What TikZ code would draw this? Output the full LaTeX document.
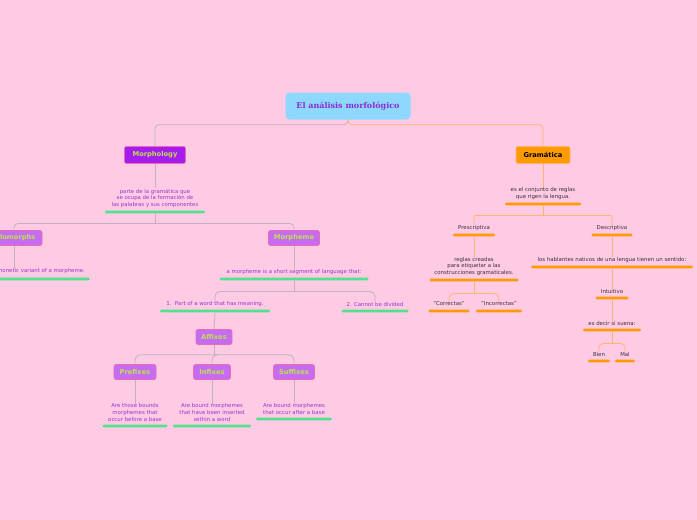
\documentclass[tikz,border=0pt]{standalone}
\usepackage{fontspec}
\setmainfont{DejaVu Sans}
\newfontfamily\titlefont{DejaVu Serif}
\definecolor{bg}{HTML}{FFCBE4}
\definecolor{titleblue}{HTML}{8ED8FD}
\definecolor{titlepurple}{HTML}{8A2BD8}
\definecolor{mainpurple}{HTML}{A41CF0}
\definecolor{subpurple}{HTML}{C56CF2}
\definecolor{boxedge}{HTML}{EC6AAE}
\definecolor{lime}{HTML}{BDE24C}
\definecolor{desctext}{HTML}{9A33CC}
\definecolor{darktext}{HTML}{3A3040}
\definecolor{greenline}{HTML}{52E28E}
\definecolor{orangeline}{HTML}{FF9A00}
\definecolor{grayconn}{HTML}{BFB3BB}
\definecolor{orangeconn}{HTML}{FFB468}
\definecolor{gramorange}{HTML}{FF9B00}
\begin{document}
\begin{tikzpicture}[x=1pt,y=-1pt,
  titlebox/.style={fill=titleblue, rounded corners=4, minimum width=125, minimum height=27, inner sep=0,
    font=\titlefont\bfseries\fontsize{8}{9}\selectfont, text=titlepurple},
  mainbox/.style={fill=mainpurple, draw=boxedge, line width=0.6, rounded corners=2, minimum height=17, inner sep=0,
    text=lime, font=\bfseries\fontsize{6.7}{7}\selectfont},
  subbox/.style={fill=subpurple, draw=boxedge, line width=0.6, rounded corners=2, minimum height=15, inner sep=0,
    text=lime, font=\bfseries\fontsize{6.7}{7}\selectfont},
  grambox/.style={fill=gramorange, draw=orangeconn, line width=0.6, rounded corners=2, minimum height=17, minimum width=54, inner sep=0,
    text=black, font=\bfseries\fontsize{6.7}{7}\selectfont},
  desc/.style={align=center, inner sep=0, text=desctext, font=\fontsize{5.4}{6.6}\selectfont},
  rdesc/.style={align=center, inner sep=0, text=darktext, font=\fontsize{5.4}{6.6}\selectfont},
  gline/.style={fill=greenline, rounded corners=1.2, minimum height=2.6, inner sep=0},
  oline/.style={fill=orangeline, rounded corners=1.2, minimum height=2.6, inner sep=0},
  gc/.style={draw=grayconn, line width=0.8},
  oc/.style={draw=orangeconn, line width=0.8},
]
\fill[bg] (0,0) rectangle (697,520);
\clip (0,0) rectangle (697,520);

% ---- title
\node[titlebox] (title) at (348,106) {El análisis morfológico};

% ---- left branch
\node[mainbox, minimum width=61] (morph) at (155,155) {Morphology};
\draw[gc, rounded corners=4] (title.south) -- ++(0,5) -| (morph.north);
\node[desc] (d1) at (155,198) {parte de la gramática que\\se ocupa de la formación de\\las palabras y sus componentes};
\node[gline, minimum width=100] (u1) at (155,212) {};
\draw[gc] (morph.south) -- (d1.north);
\draw[gc] (u1.south) -- ++(0,10) coordinate (b1);

\node[subbox, minimum width=56] (allo) at (14,238) {Allomorphs};
\node[subbox, minimum width=51] (morphm) at (294,238) {Morpheme};
\draw[gc, rounded corners=4] (b1) -| (allo.north);
\draw[gc, rounded corners=4] (b1) -| (morphm.north);

\node[desc, anchor=east] (d2) at (85,271) {An allomorph is a phonetic variant of a morpheme.};
\node[gline, minimum width=150, anchor=east] (u2) at (90,279) {};
\draw[gc] (allo.south) -- (allo.south |- d2.north);

\node[desc] (d3) at (294,272) {a morpheme is a short segment of language that:};
\node[gline, minimum width=149] (u3) at (294,279) {};
\draw[gc] (morphm.south) -- (d3.north);
\draw[gc] (u3.south) -- ++(0,11) coordinate (b3);

\node[desc] (p1) at (215,304) {1.\ \ Part of a word that has meaning.};
\node[gline, minimum width=110] (u4) at (215,311) {};
\node[desc] (p2) at (375,304) {2. Cannot be divided};
\node[gline, minimum width=67] (u5) at (375,311) {};
\draw[gc, rounded corners=5] (b3) -| (p1.north);
\draw[gc, rounded corners=5] (b3) -| (p2.north);

\node[subbox, minimum width=36] (aff) at (214,337) {Affixes};
\draw[gc] (u4.south) -- (aff.north);
\draw[gc] (aff.south) -- ++(0,10) coordinate (b4);

\node[subbox, minimum width=42] (pre) at (135,372) {Prefixes};
\node[subbox, minimum width=37] (inf) at (212,372) {Infixes};
\node[subbox, minimum width=41] (suf) at (294,372) {Suffixes};
\draw[gc, rounded corners=6] (b4) -| (pre.north);
\draw[gc, rounded corners=6] (b4) -| (inf.north);
\draw[gc, rounded corners=6] (b4) -| (suf.north);

\node[desc] (dpre) at (135,412.5) {Are those bounds\\morphemes that\\occur before a base};
\node[gline, minimum width=65] (upre) at (135,426) {};
\node[desc] (dinf) at (212,412.5) {Are bound morphemes\\that have been inserted\\within a word};
\node[gline, minimum width=78] (uinf) at (212,426) {};
\node[desc] (dsuf) at (294,409) {Are bound morphemes\\that occur after a base};
\node[gline, minimum width=76] (usuf) at (294,419) {};
\draw[gc] (pre.south) -- (dpre.north);
\draw[gc] (inf.south) -- (dinf.north);
\draw[gc] (suf.south) -- (dsuf.north);

% ---- right branch
\node[grambox] (gram) at (543,155) {Gramática};
\draw[oc, rounded corners=4] (title.south) -- ++(0,5) -| (gram.north);
\node[rdesc] (dg) at (543,193.5) {es el conjunto de reglas\\que rigen la lengua.};
\node[oline, minimum width=76] (ug) at (543,204) {};
\draw[oc] (gram.south) -- (dg.north);
\draw[oc] (ug.south) -- ++(0,10) coordinate (b5);

\node[rdesc] (pres) at (474,228) {Prescriptiva};
\node[oline, minimum width=42] (upres) at (474,235) {};
\node[rdesc] (descr) at (612,228) {Descriptiva};
\node[oline, minimum width=41] (udescr) at (612,235) {};
\draw[oc, rounded corners=1.5] (b5) -| (pres.north);
\draw[oc, rounded corners=1.5] (b5) -| (descr.north);

\node[rdesc] (dp) at (474,266.5) {reglas creadas\\para etiquetar a las\\construcciones gramaticales.};
\node[oline, minimum width=89] (udp) at (474,280) {};
\draw[oc] (upres.south) -- (dp.north);
\draw[oc] (udp.south) -- ++(0,12) coordinate (b6);

\node[rdesc] (cor) at (449,304) {"Correctas"};
\node[oline, minimum width=41] (ucor) at (449,311) {};
\node[rdesc] (inc) at (499,304) {"Incorrectas"};
\node[oline, minimum width=46] (uinc) at (499,311) {};
\draw[oc, rounded corners=5] (b6) -| (cor.north);
\draw[oc, rounded corners=5] (b6) -| (inc.north);

\node[rdesc] (dd) at (612,260) {los hablantes nativos de una lengua tienen un sentido:};
\node[oline, minimum width=162] (udd) at (612,267) {};
\draw[oc] (udescr.south) -- (dd.north);

\node[rdesc] (intu) at (612,291) {Intuitivo};
\node[oline, minimum width=33] (uintu) at (612,298) {};
\draw[oc] (udd.south) -- (intu.north);

\node[rdesc] (es) at (612,323) {es decir si suena:};
\node[oline, minimum width=58] (ues) at (612,330) {};
\draw[oc] (uintu.south) -- (es.north);
\draw[oc] (ues.south) -- ++(0,12) coordinate (b7);

\node[rdesc] (bien) at (599,354) {Bien};
\node[oline, minimum width=22] (ubien) at (599,361) {};
\node[rdesc] (mal) at (625,354) {Mal};
\node[oline, minimum width=20] (umal) at (625,361) {};
\draw[oc, rounded corners=4] (b7) -| (bien.north);
\draw[oc, rounded corners=4] (b7) -| (mal.north);
\end{tikzpicture}
\end{document}
